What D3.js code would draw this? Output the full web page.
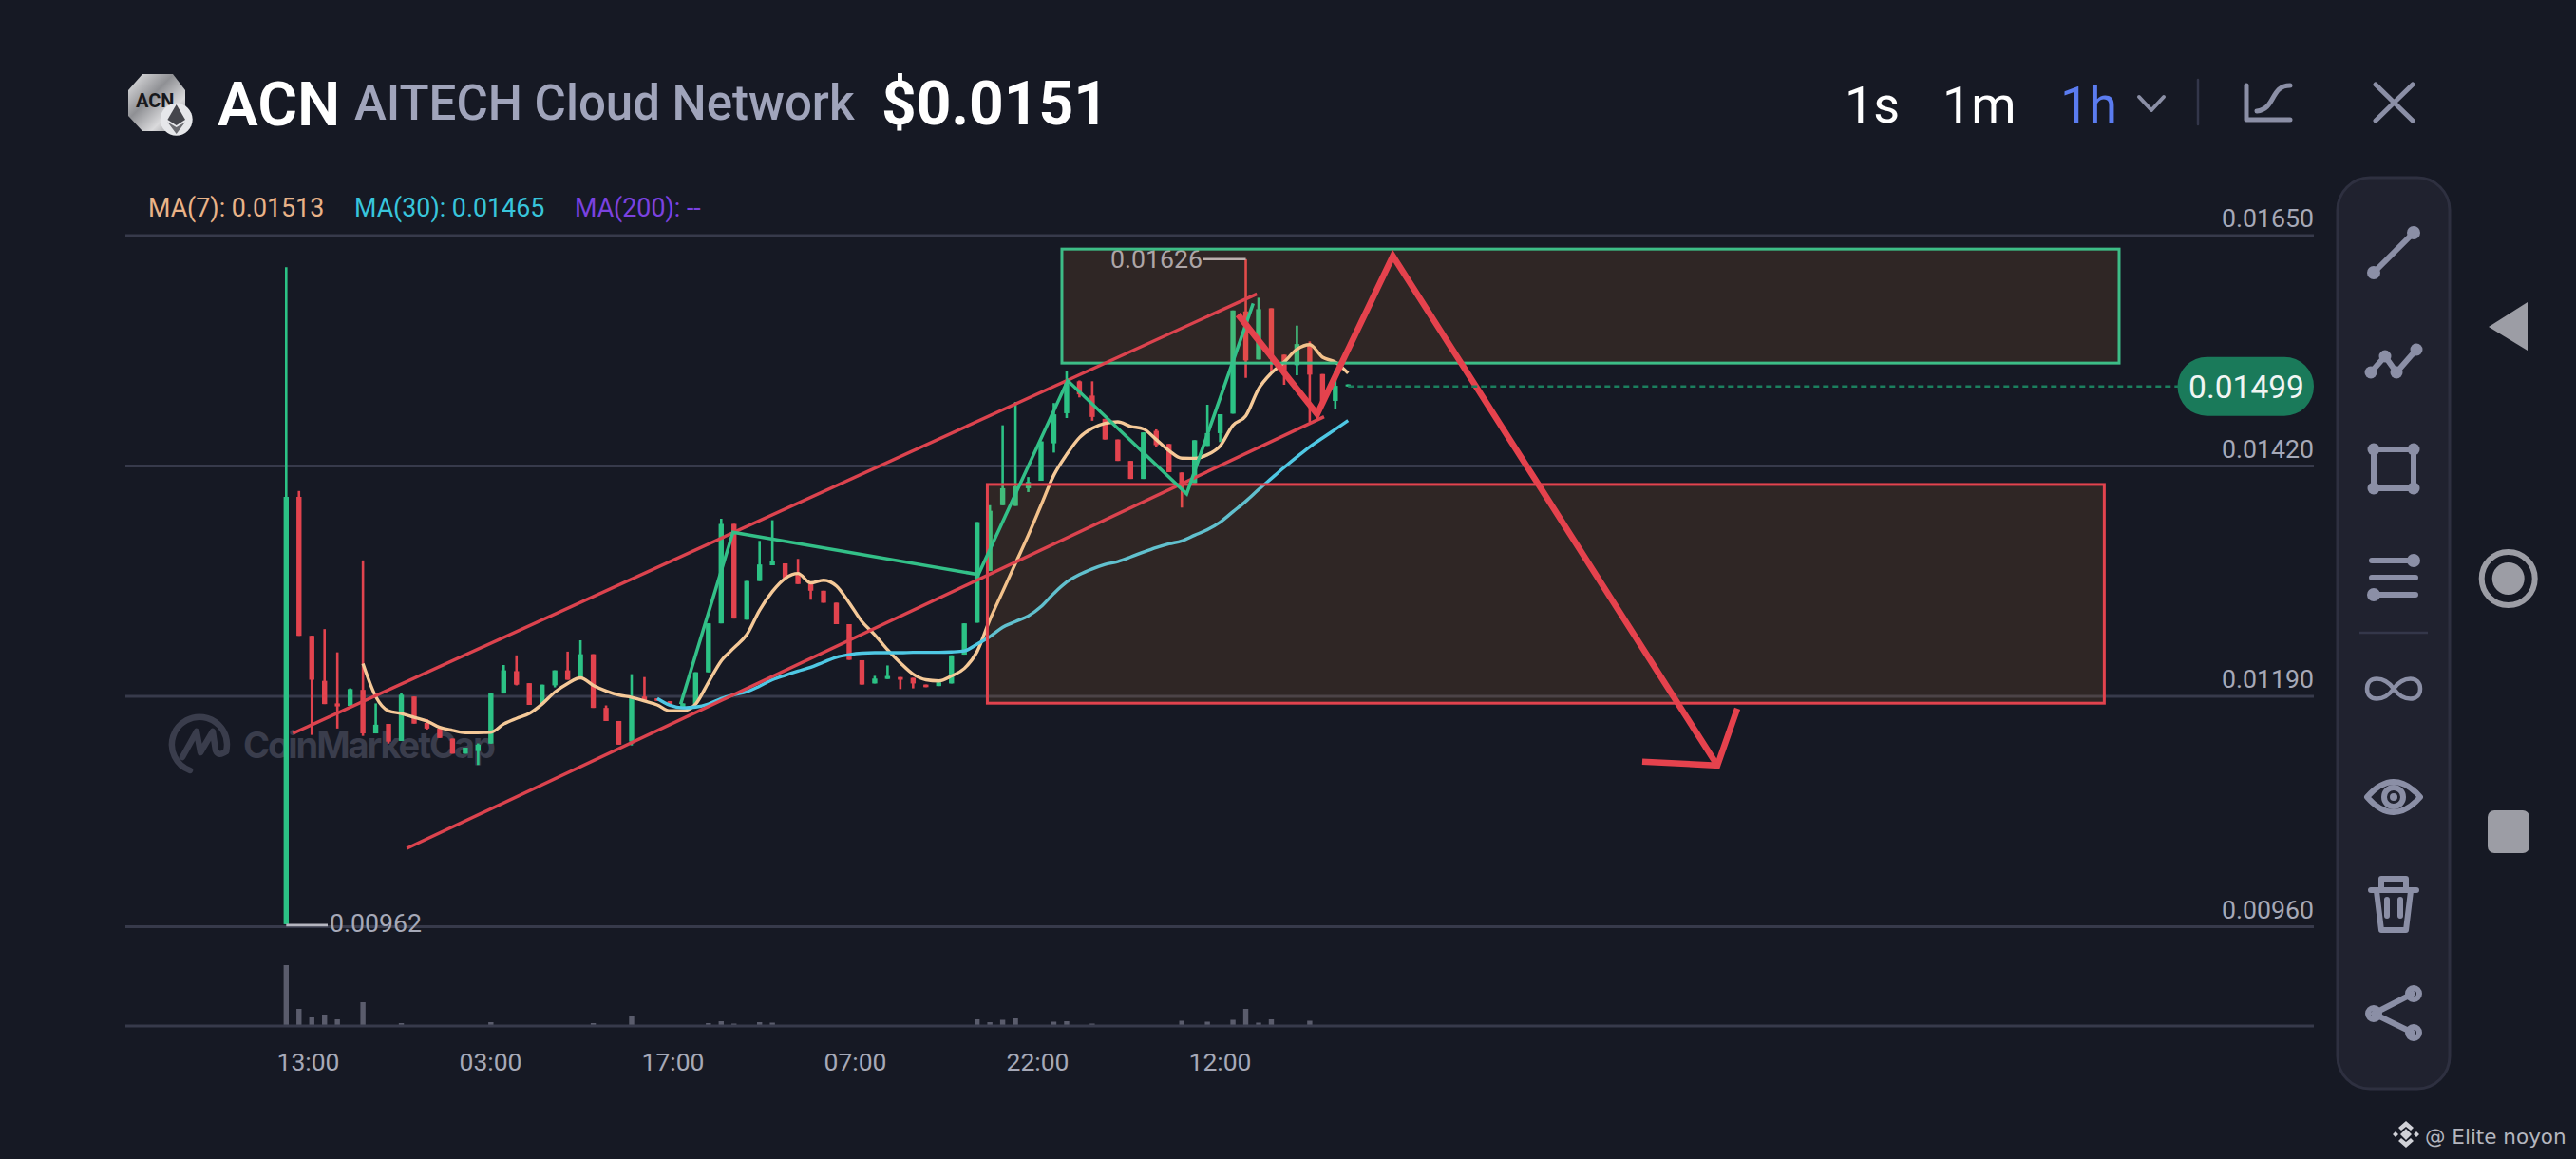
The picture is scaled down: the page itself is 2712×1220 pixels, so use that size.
<!DOCTYPE html>
<html lang="en">
<head>
<meta charset="UTF-8">
<title>ACN chart</title>
<script src="https://d3js.org/d3.v7.min.js"></script>
<style>
    html, body { margin: 0; padding: 0; background: #161924; overflow: hidden; }
    svg { display: block; font-family: Roboto, sans-serif; }
</style>
</head>
<body>
<svg id="chart" width="2712" height="1220"></svg>
<script>
// candles
var opens = [.00962,.013887,.0125,.01205,.011825,.0118,.01196,.011525,.01162,.01145,.011893,.01163,.011574,.011473,.011323,.011349,.011424,.011923,.012147,.012027,.011818,.012005,.012155,.01208,.012316,.01178,.011649,.011443,.011893,.011875,.011847,.011773,.011818,.012136,.012624,.013617,.012661,.013047,.013204,.013223,.013111,.013017,.01295,.01283,.012616,.012256,.012024,.012069,.012088,.01208,.012013,.011998,.012024,.012312,.012631,.013148,.013804,.013797,.013973,.014048,.014422,.014722,.015041,.014898,.014666,.01446,.014246,.014066,.014546,.014415,.01413,.014023,.014396,.014523,.014718,.015739,.015259,.01577,.015306,.015202,.015407,.015113,.014845,.01499];
var highs = [.01618,.013946,.0125,.012567,.012335,.011975,.013253,.011825,.01162,.01193,.011893,.011668,.011593,.011473,.011383,.011425,.011923,.012208,.012305,.012027,.012012,.012155,.012342,.012455,.012316,.011805,.011649,.012117,.012088,.011875,.011847,.011825,.012136,.012624,.013669,.013617,.013047,.013448,.013654,.013223,.013268,.013017,.01295,.01283,.012616,.012256,.0121,.012204,.012088,.01208,.012013,.012035,.012305,.012624,.013635,.013804,.014602,.014835,.014085,.014441,.014824,.015146,.015049,.015041,.014666,.01446,.014246,.01453,.014561,.014415,.01413,.014453,.014807,.014712,.015748,.01626,.015875,.01577,.015306,.015597,.015439,.015113,.015154,.01501];
var lows = [.00962,.0125,.01151,.011818,.011574,.0118,.0115,.011525,.011424,.01145,.011623,.011563,.01148,.011323,.011323,.01121,.011424,.011923,.012005,.01181,.011818,.011985,.012061,.01208,.01178,.011649,.011413,.011405,.011855,.01185,.011818,.011773,.011818,.012136,.012624,.012672,.012661,.013047,.013204,.013073,.013017,.01286,.01283,.012616,.01226,.012013,.012024,.012069,.011968,.011975,.011987,.011998,.012024,.012312,.012631,.013148,.013804,.013797,.013935,.014048,.014329,.014674,.01488,.014647,.01446,.014246,.014066,.014066,.014385,.014134,.01378,.014023,.014396,.014434,.014718,.015075,.015259,.015148,.015006,.015101,.014633,.014807,.014766,.01499];
var closes = [.013887,.0125,.012061,.011818,.011795,.011968,.011525,.011612,.011443,.011911,.011623,.011574,.01148,.011323,.011383,.011413,.011923,.012155,.012012,.01181,.012012,.012155,.012061,.012316,.01178,.011649,.011413,.011893,.011855,.01185,.011818,.011825,.012136,.012624,.013617,.012672,.013047,.013212,.013242,.013073,.013017,.01295,.01283,.012616,.01226,.012013,.012073,.012099,.012061,.012024,.011987,.012035,.012305,.012624,.013635,.013748,.013973,.013991,.014036,.014441,.014711,.015041,.01491,.014685,.01446,.014246,.014066,.01453,.014404,.014134,.013973,.014453,.014523,.014712,.015748,.015249,.015761,.015265,.015107,.015413,.015107,.014807,.014996,.01501];
var volumes = [64,18,9,12,7,0,25,0,0,3,0,0,0,0,0,0,4,0,0,0,0,0,0,0,3,0,0,10,0,0,0,0,0,3,5,2.5,0,4,3.5,0,0,0,0,0,0,0,0,0,0,0,0,0,0,0,7,4,6.5,8,0,0,4.5,5,0,2.5,0,0,0,0,0,0,5.5,0,4.5,0,6.5,18,3.5,7,0,0,5.5,0,0,0];

// moving averages: first index + values
var ma7Start = 6;
var ma7 = [.012222,.011893,.01175,.011724,.011686,.011649,.011585,.011555,.011533,.011533,.011537,.011619,.011675,.011724,.011818,.011938,.012024,.01208,.012005,.011949,.011908,.011885,.011848,.01181,.01175,.01175,.011818,.012035,.012249,.01238,.012511,.012755,.012942,.013073,.013122,.013028,.013055,.012998,.01283,.012642,.012511,.012361,.01223,.012117,.012061,.01205,.012099,.012174,.012342,.012661,.012942,.013223,.013504,.013804,.014104,.01431,.014479,.014572,.014621,.014636,.014591,.014565,.01446,.014348,.014273,.014272,.014308,.014396,.014602,.014696,.014965,.015123,.015233,.01536,.015407,.015281,.015233,.015123];
var ma30Start = 29;
var ma30 = [.011874,.011806,.01178,.011788,.011818,.011874,.011911,.011941,.011998,.012061,.012106,.012147,.012185,.012237,.012286,.012312,.012327,.012331,.012331,.012331,.012335,.012335,.012335,.012339,.01235,.012417,.012492,.012586,.012642,.012698,.012792,.012923,.013036,.013111,.013167,.013212,.013242,.013287,.013336,.013381,.013418,.013448,.013504,.01356,.013635,.013739,.013843,.01396,.014071,.014181,.014286,.014387,.014475,.014561,.014649];

// drawn on the chart by hand: [candle index, price]
var channelTop = [[0.52,.011525],[75.87,.015913]];
var channelBottom = [[9.43,.010377],[81.12,.014687]];
var greenPath = [[30.83,.011818],[34.92,.013534],[54.1,.013111],[61.08,.015048],[70.38,.013917],[75.58,.015818]];
var redPath = [[74.39,.015707],[80.58,.014712],[86.5,.016292],[111.86,.011205]];
var arrowHead = [[105.99,.011243],[111.86,.011205],[113.42,.011773]];
var greenZone = {x0: 60.63, x1: 143.26, top: .016361, bottom: .015223};
var redZone = {x0: 54.8, x1: 142.1, top: .014011, bottom: .011827};

var priceTicks = [.0165,.0142,.0119,.0096];
var timeTicks = ["13:00","03:00","17:00","07:00","22:00","12:00"];
var lastPrice = .01499;

var bg = "#161924", gridColor = "#373a4b", labelColor = "#a6a9b8";
var green = "#2cc285", red = "#e2434e";

var svg = d3.select("#chart");
var left = 132, right = 2436;

var x = d3.scaleLinear().domain([0, 83]).range([301.3, 1419.3]);
var y = d3.scaleLinear().domain([.0096, .0165]).range([975, 247.5]);
var vol = d3.scaleLinear().domain([0, 64]).range([1080, 1016]);
var timeX = d3.scalePoint().domain(timeTicks).range([324, 1284]);

// watermark sits below everything
var wm = svg.append("g").attr("fill", "none").attr("stroke", "#3a3d4c").attr("stroke-width", 6.5).attr("stroke-linecap", "round").attr("stroke-linejoin", "round");
wm.append("path").attr("d", "M200 811 A29 29 0 1 1 238 791");
wm.append("path").attr("d", "M192 797 L207 770 L211 792 L224 770 L227 790 Q230 797 238 791");
svg.append("text").attr("x", 256).attr("y", 798).attr("fill", "#3a3d4c")
    .attr("font-family", "Inter, sans-serif").attr("font-weight", 700).attr("font-size", 38)
    .attr("textLength", 266).text("CoinMarketCap");

// grid + price labels
var yAxis = svg.append("g").attr("transform", "translate(" + right + ",0)")
    .call(d3.axisLeft(y).tickValues(priceTicks).tickSize(right - left).tickFormat(function(d) { return d.toFixed(5); }));
yAxis.select(".domain").remove();
yAxis.selectAll("line").attr("stroke", gridColor).attr("stroke-width", 3);
yAxis.selectAll("text").attr("x", 0).attr("dy", -9).attr("text-anchor", "end")
    .attr("fill", labelColor).attr("font-family", "Roboto, sans-serif").attr("font-size", 26.7);

// volume
svg.selectAll(".vol").data(volumes).enter().append("rect").attr("class", "vol")
    .attr("x", function(d, i) { return x(i) - 2.7; })
    .attr("width", 5.4)
    .attr("y", function(d) { return vol(d); })
    .attr("height", function(d) { return vol(0) - vol(d); })
    .attr("fill", "#5a5c6c");
svg.append("line").attr("x1", left).attr("x2", right).attr("y1", vol(0)).attr("y2", vol(0))
    .attr("stroke", gridColor).attr("stroke-width", 3);

// time labels
var xAxis = svg.append("g").attr("transform", "translate(0," + vol(0) + ")")
    .call(d3.axisBottom(timeX).tickSize(0).tickPadding(28));
xAxis.select(".domain").remove();
xAxis.selectAll("text").attr("fill", labelColor).attr("font-family", "Roboto, sans-serif").attr("font-size", 26.5);

// candles
var candles = svg.append("g");
opens.forEach(function(o, i) {
    var c = closes[i];
    var color = c >= o ? green : red;
    candles.append("line")
        .attr("x1", x(i)).attr("x2", x(i))
        .attr("y1", y(highs[i])).attr("y2", y(lows[i]))
        .attr("stroke", color).attr("stroke-width", 2.6);
    candles.append("rect")
        .attr("x", x(i) - 2.7).attr("width", 5.4)
        .attr("y", y(Math.max(o, c)))
        .attr("height", Math.max(2, Math.abs(y(o) - y(c))))
        .attr("fill", color);
});

// high / low callouts
svg.append("path").attr("fill", "none").attr("stroke", "#b5b6c0").attr("stroke-width", 2.6)
    .attr("d", "M" + x(0) + " " + (y(.00962) + 1) + " H345");
svg.append("text").attr("x", 347).attr("y", y(.00962) + 8).attr("fill", labelColor).attr("font-size", 26.7).text("0.00962");
svg.append("path").attr("fill", "none").attr("stroke", "#b5b6c0").attr("stroke-width", 2.6)
    .attr("d", "M" + x(75) + " " + y(.01626) + " H1267");
svg.append("text").attr("x", 1266).attr("y", y(.01626) + 9).attr("text-anchor", "end").attr("fill", labelColor).attr("font-size", 26.7).text("0.01626");

// moving average lines
var lineFrom = function(start) {
    return d3.line().x(function(d, i) { return x(start + i); }).y(function(d) { return y(d); }).curve(d3.curveMonotoneX);
};
svg.append("path").attr("d", lineFrom(ma7Start)(ma7)).attr("fill", "none").attr("stroke", "#f5c998").attr("stroke-width", 3.4);
svg.append("path").attr("d", lineFrom(ma30Start)(ma30)).attr("fill", "none").attr("stroke", "#4fc8e4").attr("stroke-width", 3.4);

// zones
var zone = function(z, stroke) {
    svg.append("rect")
        .attr("x", x(z.x0)).attr("width", x(z.x1) - x(z.x0))
        .attr("y", y(z.top)).attr("height", y(z.bottom) - y(z.top))
        .attr("fill", "rgb(230,140,50)").attr("fill-opacity", .12)
        .attr("stroke", stroke).attr("stroke-width", 3);
};
zone(greenZone, "#3dbd87");
zone(redZone, red);

// hand drawn lines
var drawn = d3.line().x(function(d) { return x(d[0]); }).y(function(d) { return y(d[1]); });
var stroke = function(pts, color, w) {
    svg.append("path").attr("d", drawn(pts)).attr("fill", "none").attr("stroke", color).attr("stroke-width", w).attr("stroke-linejoin", "miter");
};
stroke(channelTop, "#dc434e", 3.4);
stroke(channelBottom, "#dc434e", 3.4);
stroke(greenPath, "#33c088", 3.5);
stroke(redPath, "#e5424d", 6.5);
stroke(arrowHead, "#e5424d", 6.5);

// last price
svg.append("line").attr("x1", x(83)).attr("x2", 2294).attr("y1", y(lastPrice)).attr("y2", y(lastPrice))
    .attr("stroke", "#1b7f5e").attr("stroke-width", 2.5).attr("stroke-dasharray", "6 4");
svg.append("rect").attr("x", 2292.5).attr("y", y(lastPrice) - 31).attr("width", 143.5).attr("height", 62).attr("rx", 31).attr("fill", "#1a7a5a");
svg.append("text").attr("x", 2365).attr("y", y(lastPrice) + 12).attr("text-anchor", "middle").attr("fill", "#f1f5f3").attr("font-size", 33.5).text(lastPrice.toFixed(5));

// header
var defs = svg.append("defs");
var silver = defs.append("linearGradient").attr("id", "silver").attr("x1", 0).attr("x2", 1).attr("y1", 0).attr("y2", 1);
silver.append("stop").attr("offset", 0).attr("stop-color", "#e8e8ea");
silver.append("stop").attr("offset", .4).attr("stop-color", "#8f9094");
silver.append("stop").attr("offset", .7).attr("stop-color", "#dadadc");
silver.append("stop").attr("offset", 1).attr("stop-color", "#77787c");
svg.append("path").attr("d", "M150 78 H182 L195 95 V122 L182 138 H150 L135 122 V95 Z").attr("fill", "url(#silver)");
svg.append("text").attr("x", 143).attr("y", 113).attr("font-size", 20).attr("font-weight", 700).attr("fill", "#17181c").text("ACN");
svg.append("circle").attr("cx", 185.7).attr("cy", 125.7).attr("r", 17).attr("fill", "#e6e7ea");
svg.append("path").attr("d", "M185.7 110 L195 126 L185.7 132 L176.4 126 Z").attr("fill", "#45464c");
svg.append("path").attr("d", "M176.4 128.5 L185.7 134 L195 128.5 L185.7 141 Z").attr("fill", "#6a6b70");

svg.append("text").attr("x", 229).attr("y", 131.5).attr("fill", "#fff").attr("font-size", 64).attr("font-weight", 600).text("ACN");
svg.append("text").attr("x", 373).attr("y", 126).attr("fill", "#a0a4bb").attr("font-size", 51).attr("font-weight", 500).text("AITECH Cloud Network");
svg.append("text").attr("x", 928).attr("y", 131).attr("fill", "#fff").attr("font-size", 64).attr("font-weight", 700).text("$0.0151");

var legendLabels = ["MA(7): 0.01513", "MA(30): 0.01465", "MA(200): --"];
var legendX = [156, 373, 605];
var legendColors = ["#e9b388", "#38c5dc", "#7b42e0"];
legendLabels.forEach(function(t, i) {
    svg.append("text").attr("x", legendX[i]).attr("y", 228).attr("fill", legendColors[i]).attr("font-size", 26.8).text(t);
});

// intervals
var intervalLabels = ["1s", "1m", "1h"];
var intervalX = [1942, 2045, 2169];
var intervalColors = ["#fff", "#fff", "#5b7cf0"];
intervalLabels.forEach(function(t, i) {
    svg.append("text").attr("x", intervalX[i]).attr("y", 129).attr("fill", intervalColors[i]).attr("font-size", 54).text(t);
});

var iconColor = "#8b8fa6";
var ic = svg.append("g").attr("fill", "none").attr("stroke", iconColor).attr("stroke-width", 5).attr("stroke-linecap", "round").attr("stroke-linejoin", "round");
ic.append("path").attr("d", "M2252 102 L2265 116 L2278 102").attr("stroke-width", 4);
ic.append("line").attr("x1", 2314).attr("x2", 2314).attr("y1", 84).attr("y2", 131).attr("stroke", "#33364a").attr("stroke-width", 2.5);
ic.append("path").attr("d", "M2365 90 V126 H2411");
ic.append("path").attr("d", "M2376 117 C2396 115 2390 90 2411 90");
ic.append("path").attr("d", "M2501 89 L2540 127 M2540 89 L2501 127");

// tool panel
svg.append("rect").attr("x", 2461).attr("y", 187).attr("width", 118).attr("height", 959).attr("rx", 34)
    .attr("fill", "#20222f").attr("stroke", "#2e3040").attr("stroke-width", 3);
svg.append("line").attr("x1", 2484).attr("x2", 2556).attr("y1", 666).attr("y2", 666).attr("stroke", "#34374a").attr("stroke-width", 2.5);

var tools = svg.append("g").attr("fill", "none").attr("stroke", iconColor).attr("stroke-width", 6).attr("stroke-linecap", "round").attr("stroke-linejoin", "round");
var dot = function(cx, cy, r) {
    tools.append("circle").attr("cx", cx).attr("cy", cy).attr("r", r).attr("fill", iconColor).attr("stroke", "none");
};
tools.append("path").attr("d", "M2499 287 L2541 245");
dot(2499, 287, 7); dot(2541, 245, 7);
tools.append("path").attr("d", "M2496 392 L2511 375 L2523 392 L2544 368");
dot(2496, 392, 6.5); dot(2511, 375, 6.5); dot(2523, 392, 6.5); dot(2544, 368, 6.5);
tools.append("rect").attr("x", 2499).attr("y", 473).attr("width", 42).attr("height", 41);
dot(2499, 473, 6.5); dot(2541, 473, 6.5); dot(2499, 514, 6.5); dot(2541, 514, 6.5);
tools.append("path").attr("d", "M2497 590 H2541 M2497 608 H2543 M2499 626 H2543");
dot(2541, 590, 7); dot(2499, 626, 7);
tools.append("path").attr("stroke-width", 4.5).attr("d", "M2520 725 C2510 711 2492 711 2492 725 C2492 739 2510 739 2520 725 C2530 711 2548 711 2548 725 C2548 739 2530 739 2520 725 Z");
tools.append("path").attr("d", "M2492 839 Q2520 807 2548 839 Q2520 871 2492 839 Z");
tools.append("circle").attr("cx", 2520).attr("cy", 839).attr("r", 10);
dot(2520, 839, 4);
tools.append("path").attr("d", "M2496 937 H2544 M2507 936 V925 H2533 V936 M2502 938 L2507 979 H2533 L2538 938 M2513 947 V964 M2527 947 V964");
tools.append("path").attr("d", "M2499 1067 L2540 1046 M2499 1067 L2540 1087");
tools.append("circle").attr("cx", 2541).attr("cy", 1046).attr("r", 6);
tools.append("circle").attr("cx", 2541).attr("cy", 1087).attr("r", 6);
tools.append("circle").attr("cx", 2499).attr("cy", 1067).attr("r", 6);

// right side nav buttons
var navColor = "#9c9da5";
svg.append("path").attr("d", "M2620 344 L2661 318 V369 Z").attr("fill", navColor);
svg.append("circle").attr("cx", 2640.7).attr("cy", 609).attr("r", 28).attr("fill", "none").attr("stroke", navColor).attr("stroke-width", 6);
svg.append("circle").attr("cx", 2640.7).attr("cy", 609).attr("r", 17).attr("fill", navColor);
svg.append("rect").attr("x", 2619).attr("y", 853).attr("width", 44).attr("height", 45).attr("rx", 7).attr("fill", navColor);

// footer credit
svg.append("path").attr("fill", "#d0d1d7")
    .attr("d", "M2533 1188 L2539 1194 L2533 1200 L2527 1194 Z M2533 1180 L2541 1187 L2538 1190 L2533 1186 L2528 1190 L2525 1187 Z M2533 1208 L2541 1201 L2538 1198 L2533 1202 L2528 1198 L2525 1201 Z M2522 1191 L2525 1194 L2522 1197 L2519 1194 Z M2544 1191 L2547 1194 L2544 1197 L2541 1194 Z");
svg.append("text").attr("x", 2553).attr("y", 1203.5).attr("fill", "#b4b6bf").attr("font-family", "DejaVu Sans, sans-serif").attr("font-size", 21.5).text("@ Elite noyon");
</script>
</body>
</html>
